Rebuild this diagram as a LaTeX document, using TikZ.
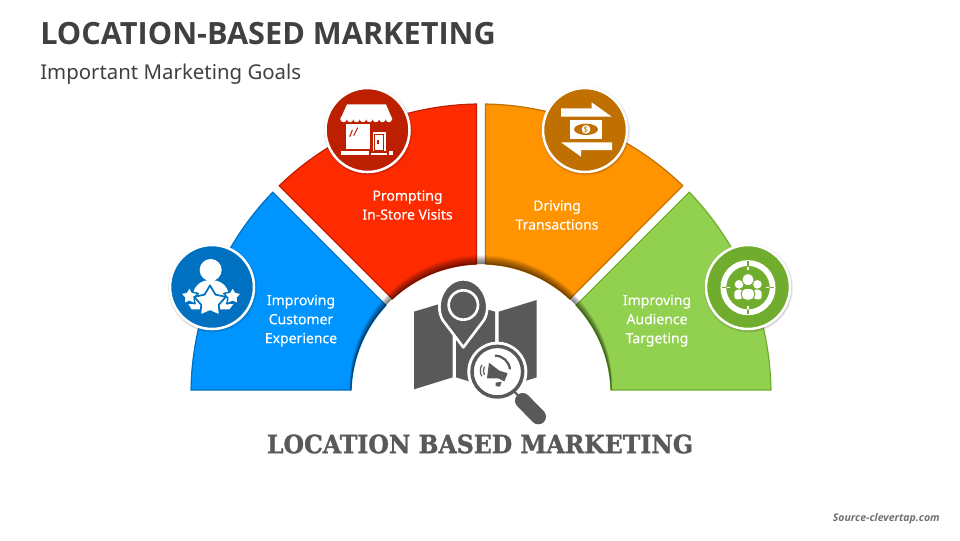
\documentclass[tikz,border=0pt]{standalone}
\usepackage{fontspec}
\setmainfont{Noto Sans}
\newfontfamily\slab[FakeBold=1.2,FakeStretch=.93]{DejaVu Serif Bold}
\newfontfamily\lblfont[FakeBold=.35]{Noto Sans}
\newfontfamily\ttlfont{Open Sans}
\usetikzlibrary{calc}
\definecolor{bluef}{HTML}{0094FF}\definecolor{blued}{HTML}{0070C0}
\definecolor{redf}{HTML}{FF2B00}\definecolor{redd}{HTML}{BC2000}
\definecolor{oraf}{HTML}{FF9300}\definecolor{orad}{HTML}{C07000}
\definecolor{grnf}{HTML}{92D050}\definecolor{grnd}{HTML}{70AD2F}
\definecolor{ink}{HTML}{595959}\definecolor{ttl}{HTML}{404040}
\newcommand{\starp}[3]{($(#1,#2)+(-90:#3)$) -- ($(#1,#2)+(-54:#3*.55)$) -- ($(#1,#2)+(-18:#3)$) -- ($(#1,#2)+(18:#3*.55)$) -- ($(#1,#2)+(54:#3)$) -- ($(#1,#2)+(90:#3*.55)$) -- ($(#1,#2)+(126:#3)$) -- ($(#1,#2)+(162:#3*.55)$) -- ($(#1,#2)+(198:#3)$) -- ($(#1,#2)+(234:#3*.55)$) -- cycle}
\tikzset{
 lbl/.style={text=white,align=center,font=\lblfont\fontsize{10.5}{14.25}\selectfont},
 badge/.style={draw=white,line width=1.9pt},
 zoomed/.style={scale=1/3}
}
\begin{document}
\begin{tikzpicture}[x=.75pt,y=-.75pt]
\useasboundingbox (0,0) rectangle (960,540);
\fill[white] (0,0) rectangle (960,540);
% titles
\node[anchor=west,inner sep=0,text=ttl,font=\ttlfont\bfseries\fontsize{23}{23}\selectfont] (title) at (40,34) {LOCATION-BASED MARKETING};
\node[anchor=west,inner sep=0,text=ttl,font=\fontsize{15.3}{15.3}\selectfont] (subtitle) at (40,74) {Important Marketing Goals};
% sectors
\begin{scope}[shift={(481,394)}]
\draw[fill=bluef,draw=blued,line width=.9pt] (-179.21:290) arc[start angle=-179.21,end angle=-135.89,radius=290] -- (-136.98:130) arc[start angle=-136.98,end angle=-178.24,radius=130] -- cycle;
\draw[fill=redf,draw=redd,line width=.9pt] (-134.11:290) arc[start angle=-134.11,end angle=-90.89,radius=290] -- (-91.98:130) arc[start angle=-91.98,end angle=-133.02,radius=130] -- cycle;
\draw[fill=oraf,draw=orad,line width=.9pt] (-89.11:290) arc[start angle=-89.11,end angle=-45.89,radius=290] -- (-46.98:130) arc[start angle=-46.98,end angle=-88.02,radius=130] -- cycle;
\draw[fill=grnf,draw=grnd,line width=.9pt] (-44.11:290) arc[start angle=-44.11,end angle=-.79,radius=290] -- (-1.76:130) arc[start angle=-1.76,end angle=-43.02,radius=130] -- cycle;
\begin{scope}
\clip (-179.21:290) arc[start angle=-179.21,end angle=-.79,radius=290] -- (-1.76:130) arc[start angle=-1.76,end angle=-178.24,radius=130] -- cycle;
\foreach \k in {1,...,9}{\fill[black,opacity=.07] (0,-\k*.8) circle[radius=130+\k*.15];}
\end{scope}
\end{scope}
% labels
\node[lbl] (l1) at (301,320.7) {Improving\\Customer\\Experience};
\node[lbl] (l2) at (407.5,205) {Prompting\\In-Store Visits};
\node[lbl] (l3) at (557,215) {Driving\\Transactions};
\node[lbl] (l4) at (657,320.7) {Improving\\Audience\\Targeting};
% badges with soft shadow
\foreach \cx/\cy/\cc in {212/287/blued,367.5/130/redd,585/130/orad,748/287/grnd}{
 \foreach \k in {1,...,4}{\fill[black,opacity=.05] (\cx+.5,\cy+1) circle[radius=42.5+\k*.5];}
 \draw[badge,fill=\cc] (\cx,\cy) circle[radius=42];
}
% icon: customer
\begin{scope}[shift={(160,180)},zoomed]
\fill[white] (152,270) circle[radius=33];
\fill[white] (98,350) .. controls (100,315) and (125,300) .. (152,300) .. controls (180,300) and (205,315) .. (207,350) -- (190,385) -- (115,385) -- cycle;
\fill[white] (85,372) -- (122,372) -- (125,388) -- (95,388) -- cycle;
\fill[white] (182,372) -- (220,372) -- (208,388) -- (180,388) -- cycle;
\draw[fill=white,draw=blued,line width=1.1pt,line join=round] \starp{88}{349}{28};
\draw[fill=white,draw=blued,line width=1.1pt,line join=round] \starp{218}{349}{28};
\draw[fill=white,draw=blued,line width=1.3pt,line join=round] \starp{150}{366}{50};
\end{scope}
% icon: store
\begin{scope}[shift={(335,95)},zoomed]
\fill[white] (36,28) -- (153,28) -- (172,73) -- (16,73) -- cycle;
\foreach \i in {0,...,7}{\fill[white] (25.7+\i*19.4,72) circle[radius=9.7];}
\fill[white] (32,88) rectangle (105,162);
\draw[redd,line width=.8pt] (44,125) -- (52,105) (56,122) -- (68,98);
\fill[white] (114,112) rectangle (152,168);
\fill[redd] (118,116) rectangle (148,168);
\fill[white] (121,119) rectangle (145,165);
\fill[redd] (126,135) rectangle (131,146);
\fill[white] (18,168) rectangle (103,180);
\fill[white] (108,174) rectangle (155,180);
\fill[white] (163,168) rectangle (174,180);
\end{scope}
% icon: transactions
\begin{scope}[shift={(480,70)},zoomed]
\fill[white] (243,115) -- (335,115) -- (335,97) -- (395,140) -- (243,140) -- cycle;
\fill[white] (396,217) -- (243,217) -- (303,260) -- (303,240) -- (396,240) -- cycle;
\fill[white] (270,150) rectangle (367,208);
\fill[orad] (318,178) ellipse[x radius=36,y radius=17];
\fill[white] (318,178) circle[radius=13];
\node[text=orad,inner sep=0,font=\fontsize{6}{6}\selectfont] (dollar) at (318,178) {\$};
\end{scope}
% icon: audience
\begin{scope}[shift={(715,255)},zoomed]
\draw[white,line width=4.3pt] (99,98) circle[radius=74];
\draw[grnd,line width=1.1pt] (99,19) -- (99,32) (99,164) -- (99,177) (20,98) -- (33,98) (165,98) -- (178,98);
\draw[white,line width=1pt] (99,35) -- (99,44) (99,152) -- (99,161) (36,98) -- (45,98) (153,98) -- (162,98);
\fill[white] (72,88) circle[radius=13] (127,88) circle[radius=13];
\fill[white,rounded corners=2pt] (58,133) -- (58,106) -- (82,102) -- (82,133) -- cycle;
\fill[white,rounded corners=2pt] (140,133) -- (140,106) -- (116,102) -- (116,133) -- cycle;
\draw[grnd,line width=.7pt,fill=white] (99,74) circle[radius=18];
\draw[grnd,line width=.7pt,fill=white,rounded corners=3.5pt] (79,135) -- (79,100) -- (119,100) -- (119,135) -- cycle;
\end{scope}
% icon: map
\begin{scope}[shift={(400,270)},zoomed]
\fill[ink] (42,125) -- (158,90) -- (158,322) -- (42,358) -- cycle;
\fill[ink] (168,90) -- (285,125) -- (285,358) -- (168,322) -- cycle;
\fill[ink] (296,125) -- (410,90) -- (410,322) -- (296,358) -- cycle;
\draw[white,line width=2pt,fill=ink,line join=round] (190,232) -- (128,150) .. controls (100,100) and (135,28) .. (190,28) .. controls (245,28) and (280,100) .. (252,150) -- cycle;
\draw[white,line width=2pt] (190,105) circle[radius=44];
\fill[white] (292,305) circle[radius=90];
\draw[ink,line width=2.6pt] (292,305) circle[radius=76];
\draw[ink,line width=1.6pt,line cap=round] (344,366) -- (364,386);
\draw[ink,line width=11.5pt,line cap=round] (368,392) -- (415,440);
\end{scope}
\begin{scope}[shift={(465,340)},zoomed]
\fill[ink,line join=round] (72,68) -- (103,92) -- (128,100) -- (118,124) -- (100,115) -- (66,115) -- cycle;
\fill[ink] (92,128) -- (110,125) -- (105,140) -- (92,138) -- cycle;
\draw[ink,line width=.9pt] (80,92) ++(150:25) arc[start angle=150,end angle=210,radius=25];
\draw[ink,line width=.9pt] (80,92) ++(150:34) arc[start angle=150,end angle=210,radius=34];
\draw[ink,line width=1.7pt] (90,47) arc[start angle=-90,end angle=-5,radius=45];
\end{scope}
% bottom heading
\node[inner sep=0,text=ink] (heading) at (480,444) {\slab\fontsize{19}{19}\selectfont LOCATION BASED MARKETING};
\node[anchor=east,inner sep=0,text=ink!85,font=\ttlfont\bfseries\itshape\fontsize{7.9}{7.9}\selectfont] (source) at (940,519) {Source-clevertap.com};
\end{tikzpicture}
\end{document}
